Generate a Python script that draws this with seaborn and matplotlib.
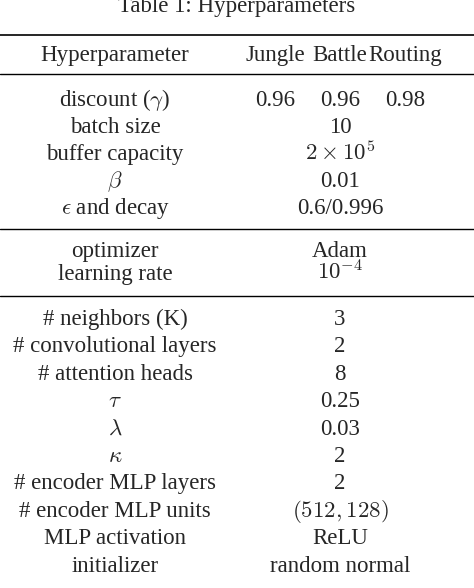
import matplotlib.pyplot as plt
import seaborn as sns

sns.set_theme(style="white")
plt.rcParams['font.family'] = ['Liberation Serif', 'DejaVu Serif']
plt.rcParams['mathtext.fontset'] = 'cm'

title = "Table 1: Hyperparameters"
header = ["Hyperparameter", "Jungle", "Battle", "Routing"]

# block 1
params1 = [r"discount ($\gamma$)", "batch size", "buffer capacity", r"$\beta$", r"$\epsilon$ and decay"]
values1 = [["0.96", "0.96", "0.98"], "10", r"$2\times10^5$", "0.01", "0.6/0.996"]
# block 2
params2 = ["optimizer", "learning rate"]
values2 = ["Adam", r"$10^{-4}$"]
# block 3
params3 = ["# neighbors (K)", "# convolutional layers", "# attention heads", r"$\tau$", r"$\lambda$",
           r"$\kappa$", "# encoder MLP layers", "# encoder MLP units", "MLP activation", "initializer"]
values3 = ["3", "2", "8", "0.25", "0.03", "2", "2", "$(512, 128)$", "ReLU", "random normal"]

W, H = 474, 588
fig = plt.figure(figsize=(W / 100, H / 100), dpi=100)
fs = 16.5

col_x = [115, 275, 340, 405]
mid_x = 340


def put(x, y, s):
    # y is the row centre; draw on a common baseline
    fig.text(x / W, 1 - (y + 6) / H, s, ha="center", va="baseline", fontsize=fs)


def rule(y, lw=1.0):
    fig.add_artist(plt.Line2D([0, 1], [1 - y / H, 1 - y / H], color="black", lw=lw))


put(237, 6, title)
rule(35, 1.2)
for x, s in zip(col_x, header):
    put(x, 55, s)
rule(74)

y = 100
for p, v in zip(params1, values1):
    put(col_x[0], y, p)
    if isinstance(v, list):
        for x, s in zip(col_x[1:], v):
            put(x, y, s)
    else:
        put(mid_x, y, v)
    y += 27
rule(229)

y = 251
for p, v in zip(params2, values2):
    put(col_x[0], y, p)
    put(mid_x, y, v)
    y += 23
rule(296)

y = 319
for p, v in zip(params3, values3):
    put(col_x[0], y, p)
    put(mid_x, y, v)
    y += 27.4

fig.savefig("out.png", dpi=100)
